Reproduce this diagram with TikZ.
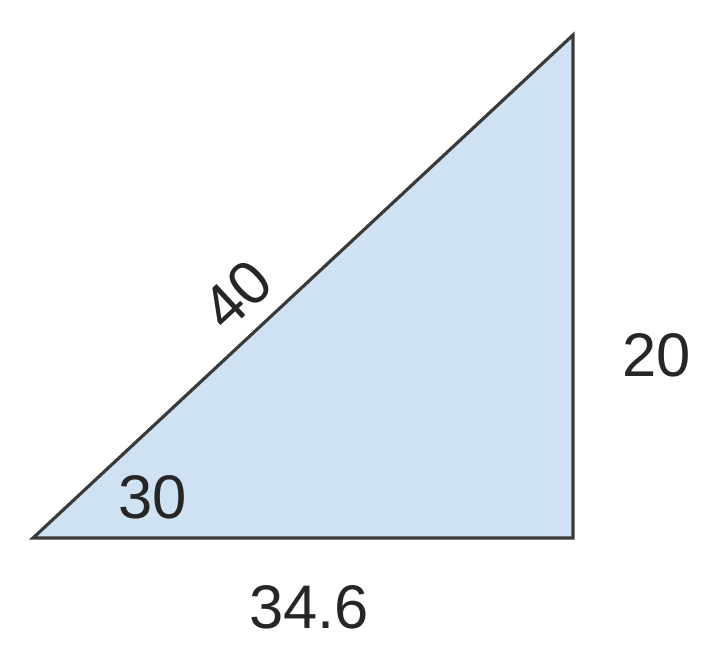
\documentclass[tikz,border=0pt]{standalone}
\usepackage{fontspec}
\setmainfont{Liberation Sans}
\usepackage{xcolor}
\definecolor{paleblue}{HTML}{CFE2F3}
\definecolor{edgegray}{HTML}{3A3A3A}
\begin{document}
\begin{tikzpicture}[x=0.01cm,y=0.01cm,
		sidelabel/.style={text=black!85,font=\fontsize{17.5}{20}\selectfont,inner sep=0pt}]
		\useasboundingbox (0,0) rectangle (723,656);
		% corners
		\coordinate (A) at (33,118);
		\coordinate (B) at (573,118);
		\coordinate (C) at (573,621);
		% triangle
		\scope
			\draw[fill=paleblue, draw=edgegray, line width=0.9pt, line join=miter] (A) -- (B) -- (C) -- cycle;
		\endscope
		% labels
		\node[sidelabel, rotate=43] (hyp) at (237,361) {40};
		\node[sidelabel] (opp) at (657,301) {20};
		\node[sidelabel] (ang) at (153,159) {30};
		\node[sidelabel] (adj) at (309,49) {34.6};
	\end{tikzpicture}
\end{document}
